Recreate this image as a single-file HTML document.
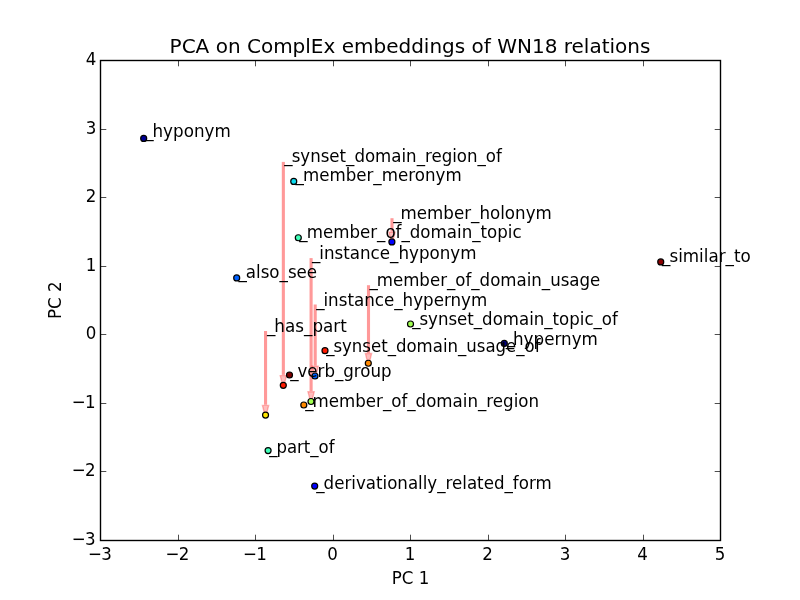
<!DOCTYPE html>
<html><head><meta charset="utf-8"><title>PCA on ComplEx embeddings of WN18 relations</title>
<style>html,body{margin:0;padding:0;background:#fff;}svg{display:block;}text{font-family:"DejaVu Sans","Liberation Sans",sans-serif;fill:#000;}</style></head><body>
<svg width="800" height="600" viewBox="0 0 800 600">
<rect width="800" height="600" fill="#fff"/>
<g fill="#ff0000" fill-opacity="0.4">
<rect x="281.80" y="161.90" width="3.1" height="213.00"/>
<rect x="390.45" y="218.20" width="3.1" height="13.30"/>
<rect x="309.55" y="258.10" width="3.1" height="133.00"/>
<rect x="366.95" y="285.20" width="3.1" height="67.65"/>
<rect x="313.65" y="304.50" width="3.1" height="61.10"/>
<rect x="264.00" y="331.00" width="3.1" height="73.70"/>
</g>
<g fill="#ff0000" fill-opacity="0.25" stroke="#ff0000" stroke-opacity="0.27" stroke-width="1.39">
<path d="M280.20 375.60 L286.50 375.60 L283.35 387.80 Z"/>
<path d="M388.85 232.20 L395.15 232.20 L392.00 244.40 Z"/>
<path d="M307.95 391.80 L314.25 391.80 L311.10 404.00 Z"/>
<path d="M365.35 353.55 L371.65 353.55 L368.50 365.75 Z"/>
<path d="M312.05 366.30 L318.35 366.30 L315.20 378.50 Z"/>
<path d="M262.40 405.40 L268.70 405.40 L265.55 417.60 Z"/>
</g>
<g stroke="#000" stroke-width="1.2">
<circle cx="143.7" cy="138.4" r="3.0" fill="#000096"/>
<circle cx="283.3" cy="385.3" r="3.0" fill="#ff1a00"/>
<circle cx="293.75" cy="181.4" r="3.0" fill="#0cdcf0"/>
<circle cx="391.9" cy="241.9" r="3.0" fill="#0000ff"/>
<circle cx="298.3" cy="237.75" r="3.0" fill="#40ffb8"/>
<circle cx="311.0" cy="401.5" r="3.0" fill="#a0ff50"/>
<circle cx="236.7" cy="277.9" r="3.0" fill="#0060ff"/>
<circle cx="368.3" cy="363.25" r="3.0" fill="#ff8900"/>
<circle cx="660.75" cy="261.9" r="3.0" fill="#8b0000"/>
<circle cx="315.0" cy="376.0" r="3.0" fill="#0060ff"/>
<circle cx="410.5" cy="324.0" r="3.0" fill="#a0ff50"/>
<circle cx="265.55" cy="415.1" r="3.0" fill="#ffe600"/>
<circle cx="504.3" cy="343.45" r="3.0" fill="#00007f"/>
<circle cx="325.0" cy="350.7" r="3.0" fill="#ff1a00"/>
<circle cx="289.5" cy="375.0" r="3.0" fill="#7f0000"/>
<circle cx="303.8" cy="405.0" r="3.0" fill="#ff8900"/>
<circle cx="268.1" cy="450.6" r="3.0" fill="#40ffb8"/>
<circle cx="314.7" cy="486.1" r="3.0" fill="#0000ff"/>
</g>
<g font-size="16.667px">
<text transform="translate(145.15,137) scale(1.0054,1.09)">_<tspan dx="-1">hyponym</tspan></text>
<text transform="translate(284.35,162) scale(0.9975,1.09)">_<tspan dx="-1">synset_domain_region_of</tspan></text>
<text transform="translate(295.55,181) scale(1.0014,1.09)">_<tspan dx="-1">member_meronym</tspan></text>
<text transform="translate(393.25,219) scale(1.0023,1.09)">_<tspan dx="-1">member_holonym</tspan></text>
<text transform="translate(299.35,238) scale(1.0005,1.09)">_<tspan dx="-1">member_of_domain_topic</tspan></text>
<text transform="translate(311.95,259) scale(1.0043,1.09)">_<tspan dx="-1">instance_hyponym</tspan></text>
<text transform="translate(238.45,278) scale(1.0010,1.09)">_<tspan dx="-1">also_see</tspan></text>
<text transform="translate(369.45,286) scale(0.9975,1.09)">_<tspan dx="-1">member_of_domain_usage</tspan></text>
<text transform="translate(662.05,262) scale(1.0059,1.09)">_<tspan dx="-1">similar_to</tspan></text>
<text transform="translate(316.15,306) scale(1.0029,1.09)">_<tspan dx="-1">instance_hypernym</tspan></text>
<text transform="translate(412.15,325) scale(0.9970,1.09)">_<tspan dx="-1">synset_domain_topic_of</tspan></text>
<text transform="translate(266.95,332) scale(1.0081,1.09)">_<tspan dx="-1">has_part</tspan></text>
<text transform="translate(505.65,345) scale(1.0054,1.09)">_<tspan dx="-1">hypernym</tspan></text>
<text transform="translate(326.15,352) scale(0.9948,1.09)">_<tspan dx="-1">synset_domain_usage_of</tspan></text>
<text transform="translate(290.15,377) scale(0.9994,1.09)">_<tspan dx="-1">verb_group</tspan></text>
<text transform="translate(305.15,407) scale(1.0007,1.09)">_<tspan dx="-1">member_of_domain_region</tspan></text>
<text transform="translate(269.15,453) scale(0.9933,1.09)">_<tspan dx="-1">part_of</tspan></text>
<text transform="translate(316.25,489) scale(1.0007,1.09)">_<tspan dx="-1">derivationally_related_form</tspan></text>
</g>
<rect x="100.5" y="60.5" width="620" height="480" fill="none" stroke="#000" stroke-width="1.39"/>
<g stroke="#000" stroke-width="0.7">
<line x1="100.5" y1="540" x2="100.5" y2="534.7"/><line x1="100.5" y1="60" x2="100.5" y2="66.3"/>
<line x1="178.5" y1="540" x2="178.5" y2="534.7"/><line x1="178.5" y1="60" x2="178.5" y2="66.3"/>
<line x1="255.5" y1="540" x2="255.5" y2="534.7"/><line x1="255.5" y1="60" x2="255.5" y2="66.3"/>
<line x1="333.5" y1="540" x2="333.5" y2="534.7"/><line x1="333.5" y1="60" x2="333.5" y2="66.3"/>
<line x1="410.5" y1="540" x2="410.5" y2="534.7"/><line x1="410.5" y1="60" x2="410.5" y2="66.3"/>
<line x1="488.5" y1="540" x2="488.5" y2="534.7"/><line x1="488.5" y1="60" x2="488.5" y2="66.3"/>
<line x1="565.5" y1="540" x2="565.5" y2="534.7"/><line x1="565.5" y1="60" x2="565.5" y2="66.3"/>
<line x1="643.5" y1="540" x2="643.5" y2="534.7"/><line x1="643.5" y1="60" x2="643.5" y2="66.3"/>
<line x1="720.5" y1="540" x2="720.5" y2="534.7"/><line x1="720.5" y1="60" x2="720.5" y2="66.3"/>
<line x1="100" y1="540.50" x2="106.3" y2="540.50"/><line x1="720" y1="540.50" x2="714.7" y2="540.50"/>
<line x1="100" y1="471.50" x2="106.3" y2="471.50"/><line x1="720" y1="471.50" x2="714.7" y2="471.50"/>
<line x1="100" y1="403.50" x2="106.3" y2="403.50"/><line x1="720" y1="403.50" x2="714.7" y2="403.50"/>
<line x1="100" y1="334.50" x2="106.3" y2="334.50"/><line x1="720" y1="334.50" x2="714.7" y2="334.50"/>
<line x1="100" y1="266.50" x2="106.3" y2="266.50"/><line x1="720" y1="266.50" x2="714.7" y2="266.50"/>
<line x1="100" y1="197.50" x2="106.3" y2="197.50"/><line x1="720" y1="197.50" x2="714.7" y2="197.50"/>
<line x1="100" y1="129.50" x2="106.3" y2="129.50"/><line x1="720" y1="129.50" x2="714.7" y2="129.50"/>
<line x1="100" y1="60.50" x2="106.3" y2="60.50"/><line x1="720" y1="60.50" x2="714.7" y2="60.50"/>
</g>
<g font-size="16.667px">
<text transform="translate(100.0,560.3) scale(1,1.09)" text-anchor="middle">−<tspan dx="-0.8">3</tspan></text>
<text transform="translate(177.5,560.3) scale(1,1.09)" text-anchor="middle">−<tspan dx="-0.8">2</tspan></text>
<text transform="translate(255.0,560.3) scale(1,1.09)" text-anchor="middle">−<tspan dx="-0.8">1</tspan></text>
<text transform="translate(332.6,560.3) scale(1,1.09)" text-anchor="middle">0</text>
<text transform="translate(410.1,560.3) scale(1,1.09)" text-anchor="middle">1</text>
<text transform="translate(487.6,560.3) scale(1,1.09)" text-anchor="middle">2</text>
<text transform="translate(565.1,560.3) scale(1,1.09)" text-anchor="middle">3</text>
<text transform="translate(642.6,560.3) scale(1,1.09)" text-anchor="middle">4</text>
<text transform="translate(720.1,560.3) scale(1,1.09)" text-anchor="middle">5</text>
<text transform="translate(95.5,544.90) scale(1,1.09)" text-anchor="end">−<tspan dx="-0.8">3</tspan></text>
<text transform="translate(95.5,475.90) scale(1,1.09)" text-anchor="end">−<tspan dx="-0.8">2</tspan></text>
<text transform="translate(95.5,407.90) scale(1,1.09)" text-anchor="end">−<tspan dx="-0.8">1</tspan></text>
<text transform="translate(96.3,338.90) scale(1,1.09)" text-anchor="end">0</text>
<text transform="translate(96.3,270.90) scale(1,1.09)" text-anchor="end">1</text>
<text transform="translate(96.3,201.90) scale(1,1.09)" text-anchor="end">2</text>
<text transform="translate(96.3,133.90) scale(1,1.09)" text-anchor="end">3</text>
<text transform="translate(96.3,64.90) scale(1,1.09)" text-anchor="end">4</text>
<text transform="translate(410.5,583.5) scale(1,1.09)" text-anchor="middle">PC 1</text>
<text transform="translate(61,300.3) rotate(-90) scale(1,1.09)" text-anchor="middle">PC 2</text>
</g>
<text x="410.0" y="53" text-anchor="middle" font-size="20px">PCA on ComplEx embeddings of WN18 relations</text>
</svg></body></html>
